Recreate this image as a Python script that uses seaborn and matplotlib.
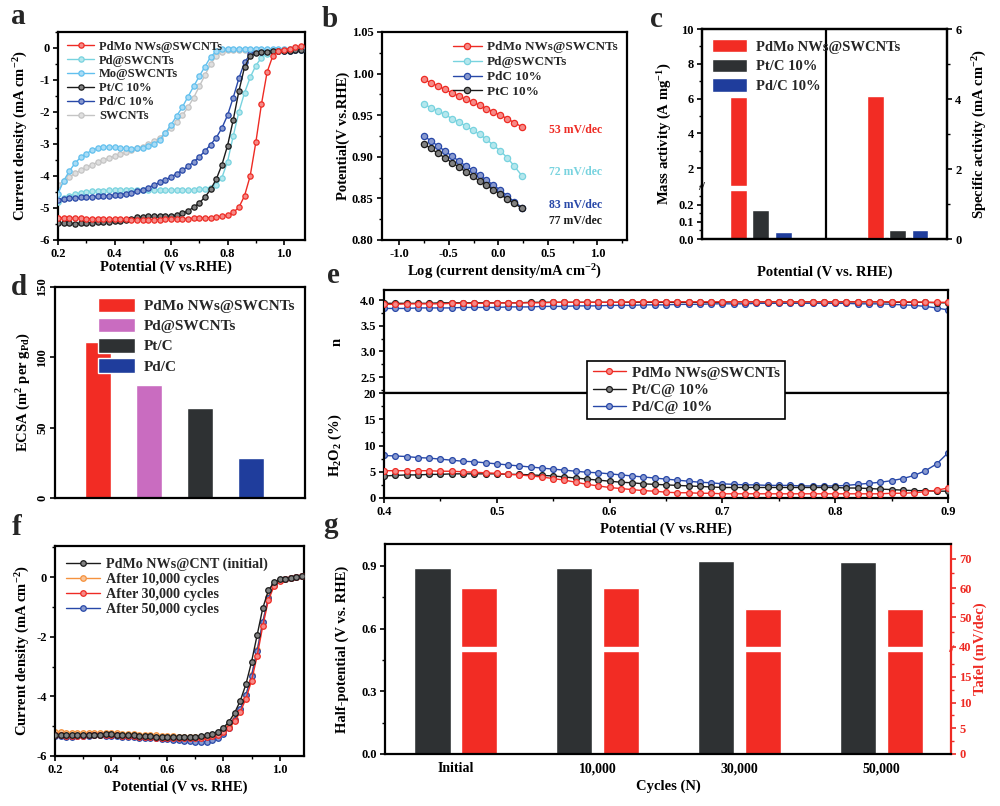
import numpy as np
import pandas as pd
import matplotlib
matplotlib.use("Agg")
import matplotlib.pyplot as plt
import matplotlib.colors as mcolors
from matplotlib.patches import Patch
from matplotlib.ticker import MultipleLocator, FixedLocator, FixedFormatter, FormatStrFormatter
import seaborn as sns

# ===================== DATA =====================
# (a) LSV polarisation curves
lsv_potential = [0.20, 0.22, 0.24, 0.26, 0.28, 0.30, 0.32, 0.34, 0.36, 0.38,
                 0.40, 0.42, 0.44, 0.46, 0.48, 0.50, 0.52, 0.54, 0.56, 0.58,
                 0.60, 0.62, 0.64, 0.66, 0.68, 0.70, 0.72, 0.74, 0.76, 0.78,
                 0.80, 0.82, 0.84, 0.86, 0.88, 0.90, 0.92, 0.94, 0.96, 0.98,
                 1.00, 1.02, 1.04, 1.06]
lsv_pdmo = [-5.30, -5.31, -5.31, -5.32, -5.32, -5.33, -5.33, -5.33, -5.33, -5.34,
            -5.34, -5.35, -5.35, -5.36, -5.37, -5.37, -5.37, -5.36, -5.36, -5.35,
            -5.35, -5.34, -5.33, -5.33, -5.32, -5.32, -5.31, -5.30, -5.28, -5.26,
            -5.22, -5.14, -4.98, -4.62, -4.00, -2.95, -1.75, -0.75, -0.25, -0.10,
            -0.05, -0.02, 0.02, 0.07]
lsv_pd_swcnt = [-4.82, -4.70, -4.62, -4.57, -4.53, -4.50, -4.48, -4.47, -4.46, -4.45,
                -4.45, -4.44, -4.44, -4.43, -4.43, -4.43, -4.43, -4.43, -4.44, -4.44,
                -4.44, -4.44, -4.44, -4.44, -4.43, -4.42, -4.40, -4.36, -4.27, -4.05,
                -3.55, -2.75, -2.00, -1.40, -0.92, -0.55, -0.30, -0.18, -0.12, -0.10,
                -0.09, -0.08, -0.07, -0.06]
lsv_mo_swcnt = [-4.55, -4.15, -3.85, -3.60, -3.42, -3.30, -3.20, -3.13, -3.10, -3.09,
                -3.10, -3.12, -3.14, -3.15, -3.14, -3.12, -3.07, -3.00, -2.88, -2.65,
                -2.40, -2.12, -1.85, -1.52, -1.20, -0.88, -0.58, -0.28, -0.10, -0.04,
                -0.02, -0.02, -0.02, -0.02, -0.02, -0.02, -0.02, -0.02, -0.02, -0.02,
                -0.02, -0.02, -0.01, 0.00]
lsv_pt_c = [-5.47, -5.48, -5.48, -5.49, -5.48, -5.47, -5.46, -5.45, -5.44, -5.43,
            -5.42, -5.40, -5.37, -5.33, -5.29, -5.27, -5.26, -5.25, -5.25, -5.26,
            -5.25, -5.22, -5.17, -5.09, -4.98, -4.84, -4.66, -4.42, -4.10, -3.65,
            -3.05, -2.25, -1.35, -0.60, -0.25, -0.15, -0.12, -0.11, -0.10, -0.10,
            -0.09, -0.08, -0.07, -0.05]
lsv_pd_c = [-4.75, -4.72, -4.70, -4.69, -4.67, -4.66, -4.65, -4.64, -4.62, -4.61,
            -4.60, -4.58, -4.55, -4.52, -4.48, -4.43, -4.36, -4.28, -4.20, -4.12,
            -4.03, -3.93, -3.82, -3.70, -3.56, -3.40, -3.22, -3.02, -2.80, -2.50,
            -2.10, -1.55, -0.95, -0.45, -0.20, -0.13, -0.11, -0.10, -0.10, -0.10,
            -0.09, -0.08, -0.07, -0.06]
lsv_swcnt = [-4.28, -4.15, -4.03, -3.92, -3.82, -3.73, -3.65, -3.57, -3.50, -3.44,
             -3.38, -3.32, -3.26, -3.20, -3.14, -3.08, -3.01, -2.92, -2.80, -2.66,
             -2.50, -2.32, -2.10, -1.85, -1.55, -1.20, -0.85, -0.50, -0.25, -0.12,
             -0.07, -0.06, -0.06, -0.06, -0.06, -0.06, -0.06, -0.06, -0.06, -0.06,
             -0.06, -0.06, -0.06, -0.06]
lsv_labels = ['PdMo NWs@SWCNTs', 'Pd@SWCNTs', 'Mo@SWCNTs', 'Pt/C 10%', 'Pd/C 10%', 'SWCNTs']

# (b) Tafel plots
tafel_logj = [-0.75, -0.68, -0.61, -0.54, -0.47, -0.40, -0.33, -0.26, -0.19, -0.12,
              -0.05, 0.02, 0.09, 0.16, 0.24]
tafel_pdmo = [0.993, 0.989, 0.985, 0.981, 0.977, 0.973, 0.969, 0.966, 0.962, 0.958,
              0.954, 0.950, 0.946, 0.941, 0.936]
tafel_pd_swcnt = [0.963, 0.959, 0.955, 0.951, 0.946, 0.942, 0.937, 0.932, 0.927, 0.921,
                  0.914, 0.907, 0.899, 0.889, 0.877]
tafel_pd_c = [0.925, 0.919, 0.913, 0.907, 0.901, 0.895, 0.889, 0.884, 0.878, 0.872,
              0.866, 0.860, 0.853, 0.846, 0.839]
tafel_pt_c = [0.915, 0.910, 0.904, 0.899, 0.893, 0.888, 0.882, 0.877, 0.871, 0.866,
              0.860, 0.855, 0.849, 0.844, 0.838]
tafel_labels = ['PdMo NWs@SWCNTs', 'Pd@SWCNTs', 'PdC 10%', 'PtC 10%']
tafel_slopes = ['53 mV/dec', '72 mV/dec', '83 mV/dec', '77 mV/dec']
tafel_slope_y = [0.9326, 0.882, 0.8425, 0.8225]

# (c) mass / specific activity
c_catalysts = ['PdMo NWs@SWCNTs', 'Pt/C 10%', 'Pd/C 10%']
c_mass = [6.1, 0.17, 0.04]
c_specific = [4.1, 0.27, 0.25]

# (d) ECSA
d_catalysts = ['PdMo NWs@SWCNTs', 'Pd@SWCNTs', 'Pt/C', 'Pd/C']
d_ecsa = [111, 80, 64, 28.5]

# (e) RRDE: electron number and H2O2 yield
e_potential = [0.40, 0.41, 0.42, 0.43, 0.44, 0.45, 0.46, 0.47, 0.48, 0.49, 0.50,
               0.51, 0.52, 0.53, 0.54, 0.55, 0.56, 0.57, 0.58, 0.59, 0.60,
               0.61, 0.62, 0.63, 0.64, 0.65, 0.66, 0.67, 0.68, 0.69, 0.70,
               0.71, 0.72, 0.73, 0.74, 0.75, 0.76, 0.77, 0.78, 0.79, 0.80,
               0.81, 0.82, 0.83, 0.84, 0.85, 0.86, 0.87, 0.88, 0.89, 0.90]
n_pdmo = [3.92, 3.92, 3.93, 3.93, 3.93, 3.93, 3.94, 3.94, 3.94, 3.94, 3.95,
          3.95, 3.95, 3.95, 3.95, 3.96, 3.96, 3.96, 3.96, 3.96, 3.96,
          3.96, 3.97, 3.97, 3.97, 3.97, 3.97, 3.97, 3.97, 3.97, 3.97,
          3.97, 3.97, 3.97, 3.97, 3.97, 3.97, 3.97, 3.97, 3.97, 3.97,
          3.97, 3.97, 3.97, 3.97, 3.97, 3.97, 3.97, 3.96, 3.96, 3.96]
n_pt_c = [3.94, 3.94, 3.94, 3.94, 3.94, 3.95, 3.95, 3.95, 3.95, 3.95, 3.95,
          3.95, 3.95, 3.96, 3.96, 3.96, 3.96, 3.96, 3.96, 3.96, 3.96,
          3.96, 3.96, 3.96, 3.96, 3.96, 3.96, 3.96, 3.96, 3.96, 3.96,
          3.97, 3.97, 3.97, 3.97, 3.97, 3.97, 3.97, 3.97, 3.97, 3.97,
          3.97, 3.97, 3.97, 3.97, 3.96, 3.96, 3.96, 3.96, 3.95, 3.95]
n_pd_c = [3.84, 3.84, 3.84, 3.85, 3.85, 3.85, 3.85, 3.86, 3.86, 3.86, 3.86,
          3.87, 3.87, 3.87, 3.88, 3.88, 3.88, 3.89, 3.89, 3.89, 3.90,
          3.90, 3.90, 3.91, 3.91, 3.91, 3.92, 3.92, 3.92, 3.93, 3.93,
          3.93, 3.93, 3.94, 3.94, 3.94, 3.94, 3.94, 3.94, 3.94, 3.94,
          3.94, 3.93, 3.93, 3.93, 3.92, 3.91, 3.90, 3.88, 3.85, 3.81]
h2o2_pdmo = [5.2, 5.2, 5.2, 5.2, 5.2, 5.1, 5.1, 5.0, 4.9, 4.8, 4.7,
             4.5, 4.4, 4.2, 4.0, 3.7, 3.4, 3.0, 2.6, 2.3, 2.0,
             1.8, 1.6, 1.4, 1.3, 1.1, 1.0, 1.0, 0.9, 0.9, 0.8,
             0.8, 0.8, 0.8, 0.8, 0.8, 0.8, 0.8, 0.8, 0.8, 0.8,
             0.8, 0.8, 0.8, 0.8, 0.9, 0.9, 1.0, 1.2, 1.5, 1.9]
h2o2_pt_c = [4.2, 4.3, 4.4, 4.4, 4.5, 4.5, 4.6, 4.6, 4.6, 4.6, 4.6,
             4.5, 4.5, 4.4, 4.3, 4.2, 4.0, 3.8, 3.6, 3.4, 3.2,
             3.0, 2.9, 2.7, 2.6, 2.5, 2.4, 2.3, 2.2, 2.1, 2.0,
             2.0, 2.0, 2.0, 2.0, 2.0, 2.0, 2.0, 2.0, 2.0, 2.0,
             1.9, 1.9, 1.8, 1.7, 1.6, 1.5, 1.4, 1.4, 1.3, 1.3]
h2o2_pd_c = [8.1, 8.0, 7.9, 7.7, 7.6, 7.4, 7.2, 7.0, 6.9, 6.7, 6.5,
             6.3, 6.1, 5.9, 5.7, 5.5, 5.3, 5.1, 4.9, 4.8, 4.6,
             4.4, 4.2, 4.0, 3.8, 3.6, 3.4, 3.2, 3.0, 2.9, 2.7,
             2.6, 2.5, 2.5, 2.4, 2.4, 2.4, 2.3, 2.3, 2.3, 2.3,
             2.4, 2.6, 2.8, 3.0, 3.3, 3.7, 4.3, 5.2, 6.5, 8.6]
e_labels = ['PdMo NWs@SWCNTs', 'Pt/C@ 10%', 'Pd/C@ 10%']

# (f) durability LSV
f_potential = [0.20, 0.22, 0.24, 0.26, 0.28, 0.30, 0.32, 0.34, 0.36, 0.38, 0.40,
               0.42, 0.44, 0.46, 0.48, 0.50, 0.52, 0.54, 0.56, 0.58, 0.60,
               0.62, 0.64, 0.66, 0.68, 0.70, 0.72, 0.74, 0.76, 0.78, 0.80,
               0.82, 0.84, 0.86, 0.88, 0.90, 0.92, 0.94, 0.96, 0.98, 1.00,
               1.02, 1.04, 1.06, 1.08]
f_initial = [-5.28, -5.29, -5.30, -5.31, -5.31, -5.31, -5.30, -5.29, -5.28, -5.27, -5.27,
             -5.28, -5.29, -5.30, -5.31, -5.32, -5.33, -5.34, -5.35, -5.36, -5.37,
             -5.37, -5.37, -5.37, -5.36, -5.35, -5.33, -5.30, -5.25, -5.18, -5.05,
             -4.85, -4.55, -4.15, -3.60, -2.85, -1.95, -1.05, -0.45, -0.18, -0.08,
             -0.05, -0.03, 0.00, 0.02]
f_10k = [-5.20, -5.21, -5.22, -5.22, -5.23, -5.23, -5.23, -5.22, -5.22, -5.22, -5.23,
         -5.24, -5.25, -5.26, -5.27, -5.28, -5.29, -5.30, -5.31, -5.32, -5.33,
         -5.34, -5.35, -5.36, -5.37, -5.37, -5.37, -5.35, -5.32, -5.27, -5.17,
         -5.00, -4.75, -4.42, -3.95, -3.30, -2.45, -1.50, -0.68, -0.27, -0.11,
         -0.06, -0.03, 0.00, 0.03]
f_30k = [-5.30, -5.31, -5.32, -5.33, -5.33, -5.32, -5.31, -5.30, -5.29, -5.29, -5.30,
         -5.31, -5.32, -5.33, -5.34, -5.35, -5.36, -5.37, -5.38, -5.38, -5.39,
         -5.39, -5.40, -5.40, -5.40, -5.40, -5.39, -5.37, -5.34, -5.29, -5.20,
         -5.05, -4.83, -4.52, -4.08, -3.48, -2.65, -1.65, -0.78, -0.31, -0.12,
         -0.06, -0.03, 0.00, 0.03]
f_50k = [-5.33, -5.34, -5.35, -5.35, -5.34, -5.33, -5.32, -5.31, -5.31, -5.32, -5.33,
         -5.34, -5.35, -5.36, -5.37, -5.38, -5.39, -5.40, -5.41, -5.42, -5.43,
         -5.45, -5.47, -5.49, -5.51, -5.52, -5.53, -5.52, -5.48, -5.40, -5.26,
         -5.06, -4.78, -4.42, -3.96, -3.32, -2.48, -1.52, -0.70, -0.28, -0.11,
         -0.06, -0.03, 0.00, 0.02]
f_labels = ['PdMo NWs@CNT (initial)', 'After 10,000 cycles', 'After 30,000 cycles',
            'After 50,000 cycles']

# (g) half-wave potential and Tafel slope vs cycles
g_cycles = ['Initial', '10,000', '30,000', '50,000']
g_half = [0.891, 0.891, 0.925, 0.917]
g_tafel = [60, 60, 53, 53]

# ===================== STYLE =====================
sns.set_theme(style="ticks")
plt.rcParams.update({
    'font.family': ['Liberation Serif', 'DejaVu Serif'],
    'font.weight': 'bold',
    'axes.labelweight': 'bold',
    'axes.labelsize': 10.5,
    'xtick.labelsize': 9,
    'ytick.labelsize': 9,
    'legend.fontsize': 9,
    'axes.linewidth': 1.6,
    'axes.edgecolor': 'black',
    'axes.labelcolor': 'black',
    'xtick.color': 'black',
    'ytick.color': 'black',
    'xtick.direction': 'out',
    'ytick.direction': 'out',
    'xtick.major.size': 3.5,
    'ytick.major.size': 3.5,
    'xtick.minor.size': 2,
    'ytick.minor.size': 2,
    'xtick.major.width': 1.2,
    'ytick.major.width': 1.2,
    'xtick.minor.width': 1.0,
    'ytick.minor.width': 1.0,
    'xtick.major.pad': 2.5,
    'ytick.major.pad': 2.5,
    'axes.unicode_minus': False,
    'mathtext.fontset': 'custom',
    'mathtext.rm': 'Liberation Serif:bold',
    'mathtext.it': 'Liberation Serif:bold:italic',
    'mathtext.bf': 'Liberation Serif:bold',
    'mathtext.default': 'rm',
})

RED = '#ee2b24'
CYAN = '#78d3df'
SKY = '#62c0ee'
BLACK = '#1b1b1b'
BLUE = '#2848a8'
GRAY = '#c4c4c4'
ORANGE = '#f5923e'
BAR_RED = '#f22c24'
BAR_BLACK = '#2e3133'
BAR_BLUE = '#1f3d9c'
BAR_PINK = '#c96cc0'

W, H = 1000, 806
fig = plt.figure(figsize=(W / 100, H / 100), dpi=100)


def rect(l, t, r, b):
    return [l / W, 1 - b / H, (r - l) / W, (b - t) / H]


def light(c, amt=0.45):
    r = np.array(mcolors.to_rgb(c))
    return tuple(r + (1 - r) * amt)


def curve(ax, x, y, color, label, ms=4.0, z=2):
    sns.lineplot(x=x, y=y, ax=ax, color=color, label=label, marker='o',
                 markersize=ms, markeredgecolor=color, markerfacecolor=light(color),
                 markeredgewidth=0.9, linewidth=1.0, errorbar=None, zorder=z)


def ylab(ax, text, xc, side='left', **kw):
    pos = ax.get_position()
    ax.set_ylabel(text, **kw)
    off = 7 if side == 'left' else -7
    ax.yaxis.set_label_coords(((xc + off) / W - pos.x0) / pos.width, 0.5)


def xlab(ax, text, yc, xc=None, **kw):
    pos = ax.get_position()
    ax.set_xlabel(text, **kw)
    yf = 1 - (yc - 7) / H
    xf = 0.5 if xc is None else (xc / W - pos.x0) / pos.width
    ax.xaxis.set_label_coords(xf, (yf - pos.y0) / pos.height)


def piecewise(xp, fp):
    xp = np.asarray(xp, float)
    fp = np.asarray(fp, float)

    def _map(v, a, b):
        v = np.asarray(v, float)
        out = np.interp(v, a, b)
        out = np.where(v < a[0], b[0] + (v - a[0]) * (b[1] - b[0]) / (a[1] - a[0]), out)
        out = np.where(v > a[-1], b[-1] + (v - a[-1]) * (b[-1] - b[-2]) / (a[-1] - a[-2]), out)
        return out

    return (lambda v: _map(v, xp, fp)), (lambda v: _map(v, fp, xp))


# ===================== (a) =====================
axa = fig.add_axes(rect(58, 32, 305, 240))
a_series = [lsv_pdmo, lsv_pd_swcnt, lsv_mo_swcnt, lsv_pt_c, lsv_pd_c, lsv_swcnt]
a_colors = [RED, CYAN, SKY, BLACK, BLUE, GRAY]
a_z = [6, 3, 4, 5, 3, 2]
for ys, col, lab, z in zip(a_series, a_colors, lsv_labels, a_z):
    curve(axa, lsv_potential, ys, col, lab, ms=3.8, z=z)
axa.set_xlim(0.2, 1.074)
axa.set_ylim(-6, 0.5)
axa.xaxis.set_major_locator(FixedLocator([0.2, 0.4, 0.6, 0.8, 1.0]))
axa.xaxis.set_major_formatter(FormatStrFormatter('%.1f'))
axa.xaxis.set_minor_locator(MultipleLocator(0.1))
axa.yaxis.set_major_locator(MultipleLocator(1))
axa.yaxis.set_minor_locator(MultipleLocator(0.5))
h, l = axa.get_legend_handles_labels()
axa.legend(h, l, loc='upper left', bbox_to_anchor=(0.0, 1.0), frameon=False,
           handlelength=2.2, handletextpad=0.4, labelspacing=0.15, borderaxespad=0.3)
ylab(axa, 'Current density (mA cm$^{-2}$)', 23)
xlab(axa, 'Potential (V vs.RHE)', 268, xc=166)

# ===================== (b) =====================
axb = fig.add_axes(rect(382, 32, 627, 240))
b_series = [tafel_pdmo, tafel_pd_swcnt, tafel_pd_c, tafel_pt_c]
b_colors = [RED, CYAN, BLUE, BLACK]
for ys, col, lab in zip(b_series, b_colors, tafel_labels):
    curve(axb, tafel_logj, ys, col, lab, ms=4.5)
for txt, yv, col in zip(tafel_slopes, tafel_slope_y, b_colors):
    axb.text(0.78, yv, txt, color=col, ha='center', va='center', fontsize=8.5,
             fontweight='bold')
axb.set_xlim(-1.175, 1.30)
axb.set_ylim(0.80, 1.05)
axb.xaxis.set_major_locator(FixedLocator([-1.0, -0.5, 0.0, 0.5, 1.0]))
axb.xaxis.set_major_formatter(FormatStrFormatter('%.1f'))
axb.xaxis.set_minor_locator(MultipleLocator(0.25))
axb.yaxis.set_major_locator(MultipleLocator(0.05))
axb.yaxis.set_major_formatter(FormatStrFormatter('%.2f'))
axb.yaxis.set_minor_locator(MultipleLocator(0.025))
h, l = axb.get_legend_handles_labels()
axb.legend(h, l, loc='upper right', bbox_to_anchor=(1.0, 1.0), frameon=False,
           handlelength=2.2, handletextpad=0.4, labelspacing=0.2, borderaxespad=0.3,
           fontsize=9.5)
ylab(axb, 'Potential(V vs.RHE)', 343)
xlab(axb, 'Log (current density/mA cm$^{-2}$)', 270)

# ===================== (c) =====================
axc = fig.add_axes(rect(702, 29, 947, 239))
c_pal = dict(zip(c_catalysts, [BAR_RED, BAR_BLACK, BAR_BLUE]))
mass_df = pd.DataFrame({'metric': 'Mass', 'catalyst': c_catalysts, 'value': c_mass})
spec_df = pd.DataFrame({'metric': 'Specific', 'catalyst': c_catalysts, 'value': c_specific})
sns.barplot(data=mass_df, x='metric', y='value', hue='catalyst', order=['Mass', 'Specific'],
            hue_order=c_catalysts, palette=c_pal, width=0.49, gap=0.25, saturation=1,
            dodge=True, errorbar=None, legend=False, ax=axc)
fwd, inv = piecewise([0, 0.3, 1.0, 10], [0, 51, 53.3, 209.7])
axc.set_yscale('function', functions=(fwd, inv))
axc.set_ylim(0, 10)
axc.yaxis.set_major_locator(FixedLocator([0, 0.1, 0.2, 2, 4, 6, 8, 10]))
axc.yaxis.set_major_formatter(FixedFormatter(['0.0', '0.1', '0.2', '2', '4', '6', '8', '10']))
axc.yaxis.set_minor_locator(FixedLocator([0.05, 0.15, 0.25, 1, 3, 5, 7, 9]))
axc.axhspan(0.29, 0.92, xmin=0, xmax=0.5, color='white', zorder=2)
axc.text(0.0, 0.6, '//', transform=axc.get_yaxis_transform(), ha='center', va='center',
         fontsize=9, fontweight='bold', zorder=5)
axc2 = axc.twinx()
sns.barplot(data=spec_df, x='metric', y='value', hue='catalyst', order=['Mass', 'Specific'],
            hue_order=c_catalysts, palette=c_pal, width=0.49, gap=0.25, saturation=1,
            dodge=True, errorbar=None, legend=False, ax=axc2)
axc2.set_ylim(0, 6)
axc2.yaxis.set_major_locator(MultipleLocator(2))
axc2.yaxis.set_minor_locator(MultipleLocator(1))
axc.set_xlim(-0.43, 1.36)
axc.axvline(0.475, color='black', lw=1.6, zorder=4)
axc.set_xticks([])
axc.tick_params(axis='x', length=0)
axc2.legend([Patch(facecolor=c) for c in c_pal.values()], c_catalysts, loc='upper left',
            bbox_to_anchor=(0.0, 1.0), frameon=False, handlelength=2.4, handleheight=1.0,
            handletextpad=0.6, labelspacing=0.35, borderaxespad=0.3, fontsize=10.5)
ylab(axc, 'Mass activity (A mg$^{-1}$)', 667)
ylab(axc2, 'Specific activity (mA cm$^{-2}$)', 978, side='right')
xlab(axc, 'Potential (V vs. RHE)', 273)

# ===================== (d) =====================
axd = fig.add_axes(rect(55, 287, 305, 498))
d_pal = dict(zip(d_catalysts, [BAR_RED, BAR_PINK, BAR_BLACK, BAR_BLUE]))
d_df = pd.DataFrame({'catalyst': d_catalysts, 'ecsa': d_ecsa})
sns.barplot(data=d_df, x='catalyst', y='ecsa', hue='catalyst', palette=d_pal, width=0.51,
            saturation=1, errorbar=None, legend=False, ax=axd)
axd.set_xlim(-0.85, 4.05)
axd.set_ylim(0, 150)
axd.set_xticks([])
axd.set_xlabel('')
axd.yaxis.set_major_locator(MultipleLocator(50))
axd.tick_params(axis='y', labelrotation=90, pad=1.5)
for t in axd.get_yticklabels():
    t.set_va('center')
axd.legend([Patch(facecolor=c) for c in d_pal.values()], d_catalysts, loc='upper right',
           bbox_to_anchor=(1.0, 1.0), frameon=False, handlelength=2.4, handleheight=1.1,
           handletextpad=0.6, labelspacing=0.3, borderaxespad=0.3, fontsize=11)
ylab(axd, 'ECSA (m$^2$ per g$_{Pd}$)', 26)

# ===================== (e) =====================
axe1 = fig.add_axes(rect(384, 290, 948, 393))
axe2 = fig.add_axes(rect(384, 393, 948, 498))
e_colors = [RED, BLACK, BLUE]
for ys, col, lab, z in zip([n_pdmo, n_pt_c, n_pd_c], e_colors, e_labels, [4, 3, 2]):
    curve(axe1, e_potential, ys, col, lab, ms=4.2, z=z)
for ys, col, lab, z in zip([h2o2_pdmo, h2o2_pt_c, h2o2_pd_c], e_colors, e_labels, [4, 3, 2]):
    curve(axe2, e_potential, ys, col, lab, ms=4.2, z=z)
for ax in (axe1, axe2):
    ax.set_xlim(0.4, 0.9)
    ax.xaxis.set_major_locator(MultipleLocator(0.1))
    ax.xaxis.set_minor_locator(MultipleLocator(0.05))
    ax.xaxis.set_major_formatter(FormatStrFormatter('%.1f'))
    if ax.get_legend() is not None:
        ax.get_legend().remove()
axe1.set_ylim(2.19, 4.20)
axe1.yaxis.set_major_locator(FixedLocator([2.5, 3.0, 3.5, 4.0]))
axe1.yaxis.set_major_formatter(FormatStrFormatter('%.1f'))
axe1.yaxis.set_minor_locator(FixedLocator([2.25, 2.75, 3.25, 3.75]))
axe1.tick_params(axis='x', which='both', bottom=False, labelbottom=False)
axe2.set_ylim(0, 20)
axe2.yaxis.set_major_locator(MultipleLocator(5))
axe2.yaxis.set_minor_locator(MultipleLocator(2.5))
h, l = axe1.get_legend_handles_labels()
leg = fig.legend(h, l, loc='center', bbox_to_anchor=(686 / W, 1 - 390 / H), frameon=True,
                 fancybox=False, edgecolor='black', framealpha=1, handlelength=2.2,
                 handletextpad=0.4, labelspacing=0.25, borderpad=0.35, fontsize=10.8)
leg.get_frame().set_linewidth(1.2)
ylab(axe1, 'n', 337)
ylab(axe2, 'H$_2$O$_2$ (%)', 337)
xlab(axe2, 'Potential (V vs.RHE)', 530)

# ===================== (f) =====================
axf = fig.add_axes(rect(55, 546, 304, 756))
f_series = [f_10k, f_30k, f_50k, f_initial]
f_colors = [ORANGE, RED, BLUE, BLACK]
f_labs = [f_labels[1], f_labels[2], f_labels[3], f_labels[0]]
for ys, col, lab, z in zip(f_series, f_colors, f_labs, [2, 3, 2.5, 4]):
    curve(axf, f_potential, ys, col, lab, ms=4.0, z=z)
axf.set_xlim(0.2, 1.087)
axf.set_ylim(-6, 1.04)
axf.xaxis.set_major_locator(FixedLocator([0.2, 0.4, 0.6, 0.8, 1.0]))
axf.xaxis.set_major_formatter(FormatStrFormatter('%.1f'))
axf.xaxis.set_minor_locator(MultipleLocator(0.1))
axf.yaxis.set_major_locator(MultipleLocator(2))
axf.yaxis.set_minor_locator(MultipleLocator(1))
h, l = axf.get_legend_handles_labels()
order = [3, 0, 1, 2]
axf.legend([h[i] for i in order], [l[i] for i in order], loc='upper left',
           bbox_to_anchor=(0.0, 1.0), frameon=False, handlelength=2.4, handletextpad=0.4,
           labelspacing=0.15, borderaxespad=0.4, fontsize=10.2)
ylab(axf, 'Current density (mA cm$^{-2}$)', 25)
xlab(axf, 'Potential (V vs. RHE)', 788)

# ===================== (g) =====================
axg = fig.add_axes(rect(385, 544, 951, 754))
g_pal = {'Half': BAR_BLACK, 'Tafel': BAR_RED}
half_df = pd.DataFrame({'cycles': g_cycles, 'metric': 'Half', 'value': g_half})
tafel_df = pd.DataFrame({'cycles': g_cycles, 'metric': 'Tafel', 'value': g_tafel})
sns.barplot(data=half_df, x='cycles', y='value', hue='metric', order=g_cycles,
            hue_order=['Half', 'Tafel'], palette=g_pal, width=0.66, gap=0.23, saturation=1,
            dodge=True, errorbar=None, legend=False, ax=axg)
axg.set_ylim(0, 1.005)
axg.yaxis.set_major_locator(MultipleLocator(0.3))
axg.yaxis.set_major_formatter(FormatStrFormatter('%.1f'))
axg.yaxis.set_minor_locator(MultipleLocator(0.15))
axg2 = axg.twinx()
sns.barplot(data=tafel_df, x='cycles', y='value', hue='metric', order=g_cycles,
            hue_order=['Half', 'Tafel'], palette=g_pal, width=0.66, gap=0.23, saturation=1,
            dodge=True, errorbar=None, legend=False, ax=axg2)
gf, gi = piecewise([0, 20, 40, 75], [0, 102.6, 107, 209.6])
axg2.set_yscale('function', functions=(gf, gi))
axg2.set_ylim(0, 75)
axg2.yaxis.set_major_locator(FixedLocator([0, 5, 10, 15, 40, 50, 60, 70]))
axg2.yaxis.set_major_formatter(FixedFormatter(['0', '5', '10', '15', '40', '50', '60', '70']))
axg2.yaxis.set_minor_locator(FixedLocator([2.5, 7.5, 12.5, 17.5, 45, 55, 65]))
axg2.axhspan(20.5, 39.5, color='white', zorder=2)
axg2.text(1.0, 30, '//', transform=axg2.get_yaxis_transform(), ha='center', va='center',
          fontsize=8, fontweight='bold', color=RED, zorder=5)
# half-potential bars drawn above the Tafel axis so the break band only cuts red bars
axg.set_zorder(axg2.get_zorder() + 1)
axg.patch.set_visible(False)
axg.set_xlim(-0.5, 3.49)
axg.tick_params(axis='x', length=0, pad=6, labelsize=10)
axg.spines['right'].set_visible(False)
for s in ('left', 'top', 'bottom'):
    axg2.spines[s].set_visible(False)
axg2.spines['right'].set_color(RED)
axg2.tick_params(axis='y', which='both', colors=RED)
ylab(axg, 'Half-potential (V vs. RHE)', 342)
ylab(axg2, 'Tafel (mV/dec)', 981, side='right', color=RED)
xlab(axg, 'Cycles (N)', 787)

# ===================== panel letters =====================
for letter, (x, y) in zip('abcdefg', [(18, 24), (330, 27), (656, 27), (19, 295),
                                      (333, 283), (17, 535), (331, 533)]):
    fig.text(x / W, 1 - y / H, letter, fontsize=21, fontweight='bold',
             ha='center', va='baseline')

fig.savefig('out.png', dpi=100)
